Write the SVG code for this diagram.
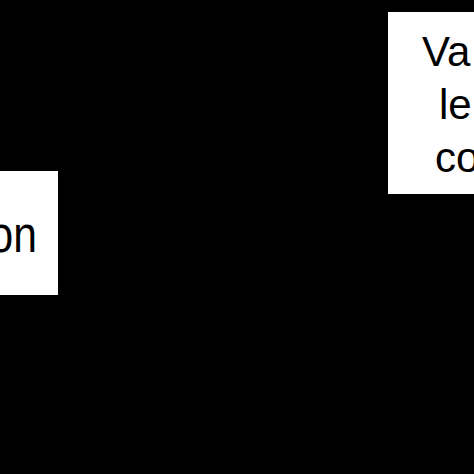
<svg xmlns="http://www.w3.org/2000/svg" width="474" height="474" viewBox="0 0 474 474">
  <style>
    .box { fill: #ffffff; stroke: none; }
    .lbl { font-family: "Liberation Sans", Arial, sans-serif; fill: #000000; }
  </style>
  <rect x="0" y="0" width="474" height="474" fill="#000000"/>
  <g id="node-vlc">
    <rect class="box" x="388" y="12" width="100" height="182"/>
    <text class="lbl" font-size="42" x="422" y="66">Va</text>
    <text class="lbl" font-size="42" x="439" y="119">le</text>
    <text class="lbl" font-size="42" x="435" y="172">co</text>
  </g>
  <g id="node-on">
    <rect class="box" x="-10" y="171" width="68" height="124"/>
    <text class="lbl" font-size="52" x="-10.5" y="252" textLength="47.4" lengthAdjust="spacingAndGlyphs">on</text>
  </g>
</svg>
